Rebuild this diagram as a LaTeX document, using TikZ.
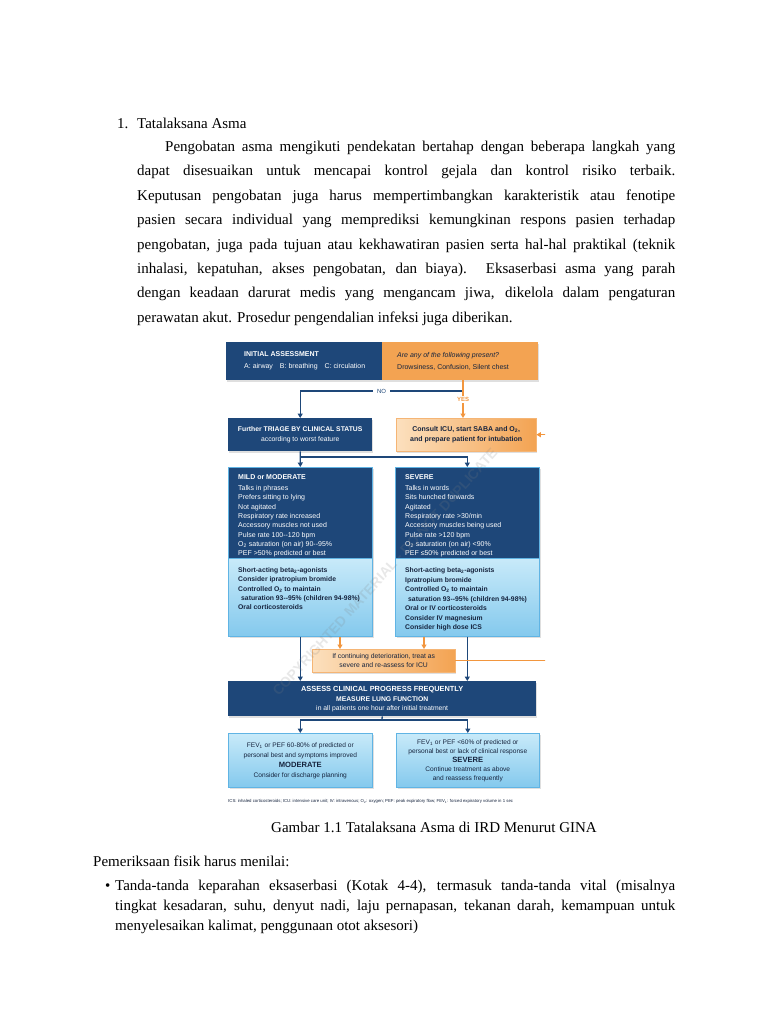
\documentclass[tikz,border=0pt]{standalone}
\usepackage{fontspec}
\setmainfont{Liberation Serif}
\newfontfamily\ginafont{Liberation Sans}
\usetikzlibrary{arrows.meta,positioning,shadows}
\definecolor{GinaNavy}{RGB}{30,71,121}
\definecolor{GinaOrange}{RGB}{243,163,82}
\definecolor{GinaLine}{RGB}{242,150,62}
\definecolor{GinaPeach}{RGB}{252,224,190}
\definecolor{GinaSky}{RGB}{200,234,249}
\definecolor{GinaBlue}{RGB}{132,201,237}
\definecolor{GinaEdge}{RGB}{96,180,228}
\definecolor{GinaInk}{RGB}{22,36,62}

\begin{document}
\begin{tikzpicture}[x=1pt,y=-1pt,
  frame/.style n args={2}{minimum width=#1,minimum height=#2,anchor=north west,inner sep=0pt},
  shade/.style={drop shadow={shadow xshift=1.2pt,shadow yshift=-1.5pt,opacity=0.25}},
  navybox/.style={fill=GinaNavy,text=white,shade},
  listbox/.style={fill=GinaNavy,draw=GinaEdge,line width=0.6pt,shade},
  skybox/.style={top color=GinaSky,bottom color=GinaBlue,draw=GinaEdge,line width=0.6pt,text=GinaInk,shade},
  peachbox/.style={left color=GinaPeach,right color=GinaOrange,draw=GinaOrange!80,line width=0.4pt,text=GinaInk,shade},
  boxtext/.style={inner sep=0pt,anchor=north west,align=left,font=\ginafont\fontsize{7}{9.3}\selectfont},
  navyline/.style={draw=GinaNavy,line width=1.3pt},
  orangeline/.style={draw=GinaLine,line width=1.1pt},
  arrowed/.style={-{Triangle[length=4.5pt,width=5pt]}},
  page/.style={inner sep=0pt,font=\fontsize{15}{24.4}\selectfont}]
\useasboundingbox (0,0) rectangle (768,1024);
\fill[white] (0,0) rectangle (768,1024);

\node[page,anchor=base west] (num) at (117,128.5) {1.};
\node[page,anchor=base west] (title) at (137,128.5) {Tatalaksana Asma};
\node[page,anchor=base west,text width=538pt,align=left] (para) at (137,151.5) {%
\spaceskip=0pt\xspaceskip=0pt\relax
\hspace*{28pt}\makebox[510pt][s]{Pengobatan asma mengikuti pendekatan bertahap dengan beberapa langkah yang}\\
\makebox[538pt][s]{dapat disesuaikan untuk mencapai kontrol gejala dan kontrol risiko terbaik.}\\
\makebox[538pt][s]{Keputusan pengobatan juga harus mempertimbangkan karakteristik atau fenotipe}\\
\makebox[538pt][s]{pasien secara individual yang memprediksi kemungkinan respons pasien terhadap}\\
\makebox[538pt][s]{pengobatan, juga pada tujuan atau kekhawatiran pasien serta hal-hal praktikal (teknik}\\
\makebox[538pt][s]{inhalasi, kepatuhan, akses pengobatan, dan biaya). Eksaserbasi asma yang parah}\\
\makebox[538pt][s]{dengan keadaan darurat medis yang mengancam jiwa, dikelola dalam pengaturan}\\
perawatan akut. Prosedur pengendalian infeksi juga diberikan.};

\node[navybox,frame={156pt}{38pt}] (init) at (226,342) {};
\node[boxtext,anchor=west,text=white,font=\ginafont\fontsize{7}{12}\selectfont] (inittxt) at ([xshift=18pt]init.west)
  {\textbf{INITIAL ASSESSMENT}\\ A: airway\quad B: breathing\quad C: circulation};
\node[fill=GinaOrange,frame={156pt}{38pt},shade] (ask) at (382,342) {};
\node[boxtext,anchor=west,text=GinaInk,font=\ginafont\fontsize{7}{12}\selectfont] (asktxt) at ([xshift=15pt]ask.west)
  {\textit{Are any of the following present?}\\ Drowsiness, Confusion, Silent chest};

\node[navybox,frame={144pt}{33pt},align=center,font=\ginafont\fontsize{6.8}{10}\selectfont] (triage) at (228,418)
  {\textbf{Further TRIAGE BY CLINICAL STATUS}\\ according to worst feature};
\node[peachbox,frame={140pt}{33pt},align=center,font=\ginafont\bfseries\fontsize{7}{10}\selectfont] (consult) at (396,418)
  {Consult ICU, start SABA and O\textsubscript{2},\\ and prepare patient for intubation};

\coordinate (fork) at (463,391);
\coordinate (split) at (300,457);
\draw[navyline,arrowed] (fork) -- node[fill=white,inner xsep=4pt,inner ysep=1pt,text=GinaNavy,font=\ginafont\fontsize{6}{7}\selectfont] (no) {NO}
  (fork -| triage.north) -- (triage.north);
\draw[orangeline,arrowed] (ask.south -| fork) -- node[fill=white,inner xsep=1pt,inner ysep=1.5pt,text=GinaLine,font=\ginafont\bfseries\fontsize{6}{7}\selectfont] (yes) {YES}
  (consult.north -| fork);

\node[listbox,frame={144pt}{91pt}] (mildtop) at (228,467) {};
\node[skybox,frame={144pt}{78pt}] (mildlow) at (228,558) {};
\node[listbox,frame={144pt}{91pt}] (severetop) at (395,467) {};
\node[skybox,frame={144pt}{78pt}] (severelow) at (395,558) {};
\node[boxtext,text=white] (mildlist) at ([xshift=10pt,yshift=-7.4pt]mildtop.north west)
  {\textbf{MILD or MODERATE}\\[1.8pt] Talks in phrases\\ Prefers sitting to lying\\ Not agitated\\ Respiratory rate increased\\
   Accessory muscles not used\\ Pulse rate 100--120 bpm\\ O\textsubscript{2} saturation (on air) 90--95\%\\ PEF >50\% predicted or best};
\node[boxtext,text=GinaInk,font=\ginafont\bfseries\fontsize{6.8}{9.3}\selectfont] (mildcare) at ([xshift=10pt,yshift=-9.5pt]mildlow.north west)
  {Short-acting beta\textsubscript{2}-agonists\\ Consider ipratropium bromide\\ Controlled O\textsubscript{2} to maintain\\
   \hspace*{3pt}saturation 93--95\% (children 94-98\%)\\ Oral corticosteroids};
\node[boxtext,text=white] (severelist) at ([xshift=10pt,yshift=-7.4pt]severetop.north west)
  {\textbf{SEVERE}\\[1.8pt] Talks in words\\ Sits hunched forwards\\ Agitated\\ Respiratory rate >30/min\\
   Accessory muscles being used\\ Pulse rate >120 bpm\\ O\textsubscript{2} saturation (on air) <90\%\\ PEF ≤50\% predicted or best};
\node[boxtext,text=GinaInk,font=\ginafont\bfseries\fontsize{6.8}{9.5}\selectfont] (severecare) at ([xshift=10pt,yshift=-9.5pt]severelow.north west)
  {Short-acting beta\textsubscript{2}-agonists\\ Ipratropium bromide\\ Controlled O\textsubscript{2} to maintain\\
   \hspace*{3pt}saturation 93--95\% (children 94-98\%)\\ Oral or IV corticosteroids\\ Consider IV magnesium\\ Consider high dose ICS};

\draw[navyline,arrowed] (triage.south) -- (mildtop.north);
\draw[navyline,arrowed] (split) -| (severetop.north);

\node[peachbox,frame={143pt}{23pt},align=center,font=\ginafont\fontsize{6.8}{8.5}\selectfont] (worsen) at (312,649)
  {If continuing deterioration, treat as\\ severe and re-assess for ICU};
\node[navybox,frame={308pt}{35pt},align=center,font=\ginafont\fontsize{6.8}{9}\selectfont] (assess) at (228,681)
  {{\bfseries\fontsize{7.4}{10}\selectfont ASSESS CLINICAL PROGRESS FREQUENTLY}\\[1pt] \textbf{MEASURE LUNG FUNCTION}\\ in all patients one hour after initial treatment};

\draw[orangeline,arrowed] (mildlow.south -| 340,0) -- (worsen.north -| 340,0);
\draw[orangeline,arrowed] (severelow.south -| 424,0) -- (worsen.north -| 424,0);
\draw[navyline,arrowed] (mildlow.south) -- (mildlow.south |- assess.north);
\draw[navyline,arrowed] (severelow.south) -- (severelow.south |- assess.north);
\begin{scope}
\clip (0,0) rectangle (545,1024);
\coordinate (loop) at (552,545);
\draw[orangeline,arrowed] (worsen.east) -| (loop) |- (consult.east);
\end{scope}

\node[skybox,frame={144pt}{54pt},align=center,font=\ginafont\fontsize{6.6}{10}\selectfont] (moderate) at (228,733)
  {FEV\textsubscript{1} or PEF 60-80\% of predicted or\\ personal best and symptoms improved\\
   {\bfseries\fontsize{7.6}{10}\selectfont MODERATE}\\ Consider for discharge planning};
\node[skybox,frame={143pt}{54pt},align=center,font=\ginafont\fontsize{6.6}{9}\selectfont] (worse) at (396,733)
  {FEV\textsubscript{1} or PEF <60\% of predicted or\\ personal best or lack of clinical response\\
   {\bfseries\fontsize{7.6}{10}\selectfont SEVERE}\\ Continue treatment as above\\ and reassess frequently};
\coordinate (branch) at (382,720);
\draw[navyline] (assess.south) -- (branch);
\draw[navyline,arrowed] (branch) -| (moderate.north);
\draw[navyline,arrowed] (branch) -| (worse.north);

\node[inner sep=0pt,anchor=west,text=GinaInk,font=\ginafont\fontsize{4.3}{5}\selectfont] (abbr) at (228,801)
  {ICS: inhaled corticosteroids; ICU: intensive care unit; IV: intravenous; O\textsubscript{2}: oxygen; PEF: peak expiratory flow; FEV\textsubscript{1}: forced expiratory volume in 1 sec};

\node[rotate=48,text=gray,text opacity=0.18,font=\ginafont\bfseries\fontsize{14}{14}\selectfont] (mark) at (385,572)
  {COPYRIGHTED MATERIAL - DO NOT DUPLICATE};

\node[page,anchor=base] (caption) at (434,832.5) {Gambar 1.1 Tatalaksana Asma di IRD Menurut GINA};
\node[page,anchor=base west] (exam) at (93,866.5) {Pemeriksaan fisik harus menilai:};
\node[page,anchor=base west] (dot) at (105,890.5) {\textbullet};
\node[page,anchor=base west,text width=560pt,align=left,font=\fontsize{15}{20}\selectfont] (items) at (115,890.5) {%
\spaceskip=0pt\xspaceskip=0pt\relax
\makebox[560pt][s]{Tanda-tanda keparahan eksaserbasi (Kotak 4-4), termasuk tanda-tanda vital (misalnya}\\
\makebox[560pt][s]{tingkat kesadaran, suhu, denyut nadi, laju pernapasan, tekanan darah, kemampuan untuk}\\
menyelesaikan kalimat, penggunaan otot aksesori)};
\end{tikzpicture}
\end{document}
